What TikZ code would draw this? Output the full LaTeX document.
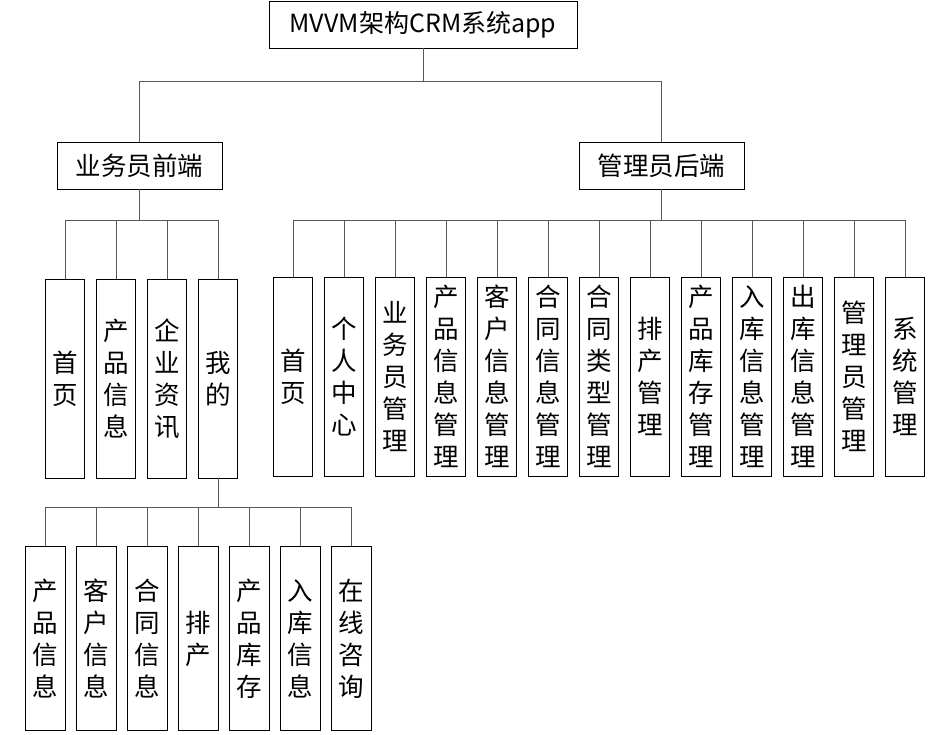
\documentclass[tikz,border=0pt]{standalone}
\usepackage{fontspec}
\newfontfamily\cjk{Noto Sans CJK SC}
\begin{document}
\begin{tikzpicture}[x=1pt,y=-1pt,
  box/.style={draw=black,line width=0.8pt,fill=white,inner sep=0pt,align=center,font=\cjk\fontsize{25.5}{32}\selectfont},
  hbox/.style={box,minimum width=165pt,minimum height=47pt},
  vbox/.style={box,minimum width=39.5pt,minimum height=199pt},
  wbox/.style={box,minimum width=39.5pt,minimum height=184pt},
  conn/.style={draw=black!65,line width=0.8pt}]
\useasboundingbox (0,0) rectangle (935,735);
\fill[white] (0,0) rectangle (935,735);
% root
\node[box,minimum width=308pt,minimum height=47pt,font=\cjk\fontsize{25}{32}\selectfont] (root) at (423,24.5) {MVVM架构CRM系统app};
\node[hbox] (fe) at (139.5,165.5) {业务员前端};
\node[hbox] (be) at (661.5,165.5) {管理员后端};
\coordinate (b1) at (0,81);
\coordinate (b2) at (0,220.5);
\coordinate (b3) at (0,507);
\draw[conn] (root.south) -- (root.south |- b1);
\draw[conn] (fe.north) |- (root.south |- b1);
\draw[conn] (be.north) |- (root.south |- b1);
% left level 2
\node[vbox] (f1) at (65,378.5) {首\\页};
\node[vbox] (f2) at (116,378.5) {产\\品\\信\\息};
\node[vbox] (f3) at (167,378.5) {企\\业\\资\\讯};
\node[vbox] (f4) at (218,378.5) {我\\的};
\draw[conn] (fe.south) -- (fe.south |- b2);
\foreach \n in {f1,f2,f3,f4} \draw[conn] (\n.north) |- (fe.south |- b2);
% right level 2
\foreach \t [count=\i from 0] in {{首\\页},{个\\人\\中\\心},{业\\务\\员\\管\\理},{产\\品\\信\\息\\管\\理},{客\\户\\信\\息\\管\\理},{合\\同\\信\\息\\管\\理},{合\\同\\类\\型\\管\\理},{排\\产\\管\\理},{产\\品\\库\\存\\管\\理},{入\\库\\信\\息\\管\\理},{出\\库\\信\\息\\管\\理},{管\\理\\员\\管\\理},{系\\统\\管\\理}}
  \node[vbox] (r\i) at (293+51*\i,376.7) {\t};
\draw[conn] (be.south) -- (be.south |- b2);
\foreach \i in {0,...,12} \draw[conn] (r\i.north) |- (be.south |- b2);
% level 3
\foreach \t [count=\i from 0] in {{产\\品\\信\\息},{客\\户\\信\\息},{合\\同\\信\\息},{排\\产},{产\\品\\库\\存},{入\\库\\信\\息},{在\\线\\咨\\询}}
  \node[wbox] (m\i) at (45.5+51*\i,638.7) {\t};
\draw[conn] (f4.south) -- (f4.south |- b3);
\foreach \i in {0,...,6} \draw[conn] (m\i.north) |- (f4.south |- b3);
\end{tikzpicture}
\end{document}
